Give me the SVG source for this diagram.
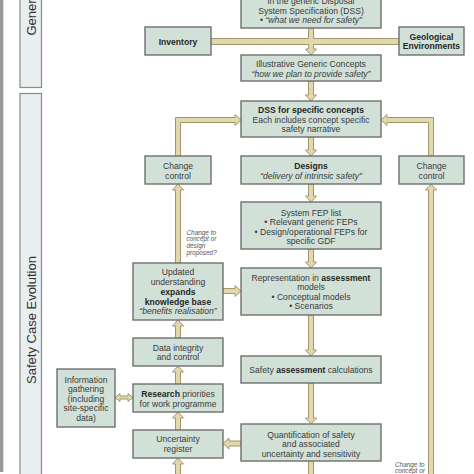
<svg xmlns="http://www.w3.org/2000/svg" width="474" height="474" viewBox="0 0 474 474">
<style>
.bg{fill:#ffffff}
.node{fill:#d2e1d8;stroke:#707070;stroke-width:1.4}
.side{fill:#e9eef0;stroke:#8a8a8a;stroke-width:1.2}
.pipe{fill:#e2d8ae;stroke:#a3966c;stroke-width:1;stroke-linejoin:miter}
.t{font-family:"Liberation Sans",Arial,sans-serif;font-size:8.6px;fill:#3a3a3a;text-anchor:middle}
.b{font-weight:bold;fill:#262626}
.i{font-style:italic}
.s{font-family:"Liberation Sans",Arial,sans-serif;font-size:13px;fill:#333333}
.n{font-family:"Liberation Sans",Arial,sans-serif;font-size:6.4px;font-style:italic;fill:#555555}
</style>
<rect class="bg" x="0" y="0" width="474" height="474"/>
<rect x="0" y="0" width="3.3" height="472" fill="#9a9a9a"/>
<g id="phase-generic">
<rect class="side" x="20" y="-5" width="21.5" height="92.5"/>
<text class="s" x="36" y="35.5" transform="rotate(-90 36 35.5)">Generic</text>
</g>
<g id="phase-safety-case-evolution">
<rect class="side" x="20" y="93.5" width="21.5" height="390"/>
<text class="s" x="36" y="320" text-anchor="middle" transform="rotate(-90 36 320)">Safety Case Evolution</text>
</g>
<g id="connectors">
<path class="pipe" d="M211 38.5 H308.5 V28 H313.5 V38.5 H399 V44.5 H313.5 V49 H316.5 L311 55 L305.5 49 H308.5 V44.5 H211Z"/>
<path class="pipe" d="M308.5 81 H313.5 V95 H316.5 L311 101 L305.5 95 H308.5Z"/>
<path class="pipe" d="M308.5 137 H313.5 V150 H316.5 L311 156 L305.5 150 H308.5Z"/>
<path class="pipe" d="M308.5 184 H313.5 V196 H316.5 L311 202 L305.5 196 H308.5Z"/>
<path class="pipe" d="M308.5 249 H313.5 V262 H316.5 L311 268 L305.5 262 H308.5Z"/>
<path class="pipe" d="M308.5 315 H313.5 V350 H316.5 L311 356 L305.5 350 H308.5Z"/>
<path class="pipe" d="M308.5 383 H313.5 V418 H316.5 L311 424 L305.5 418 H308.5Z"/>
<path class="pipe" d="M308.5 461 H313.5 V480 H308.5Z"/>
<path class="pipe" d="M175.5 263 H180.5 V190 H183.5 L178 184 L172.5 190 H175.5Z"/>
<path class="pipe" d="M175.5 156 V117.5 H235 V114.5 L241 120 L235 125.5 V122.5 H180.5 V156Z"/>
<path class="pipe" d="M175.5 338 H180.5 V326 H183.5 L178 320 L172.5 326 H175.5Z"/>
<path class="pipe" d="M175.5 384 H180.5 V372 H183.5 L178 366 L172.5 372 H175.5Z"/>
<path class="pipe" d="M175.5 430 H180.5 V418 H183.5 L178 412 L172.5 418 H175.5Z"/>
<path class="pipe" d="M175.5 480 H180.5 V464 H183.5 L178 458 L172.5 464 H175.5Z"/>
<path class="pipe" d="M433.5 156 V117.5 H387 V114.5 L381 120 L387 125.5 V122.5 H428.5 V156Z"/>
<path class="pipe" d="M428.5 480 H433.5 V190 H436.5 L431 184 L425.5 190 H428.5Z"/>
<path class="pipe" d="M223 288.5 H235 V285.5 L241 291 L235 296.5 V293.5 H223Z"/>
<path class="pipe" d="M241 441 H229 V438 L223 443.5 L229 449 V446 H241Z"/>
<path class="pipe" d="M115 397.5 L120 393.5 V396 H128 V393.5 L133 397.5 L128 401.5 V399 H120 V401.5Z"/>
<text class="n" x="186.5" y="234.5">Change to</text>
<text class="n" x="186.5" y="241.3">concept or</text>
<text class="n" x="186.5" y="247.8">design</text>
<text class="n" x="186.5" y="254.5">proposed?</text>
<text class="n" x="395" y="466.5">Change to</text>
<text class="n" x="395" y="473.3">concept or</text>
</g>
<g id="dss-generic">
<rect class="node" x="241" y="-10" width="140" height="38"/>
<text class="t" x="311" y="3.5">in the generic Disposal</text>
<text class="t" x="311" y="13.5">System Specification (DSS)</text>
<text class="t" x="311" y="23">• <tspan class="i">“what we need for safety”</tspan></text>
</g>
<g id="inventory">
<rect class="node" x="145" y="27" width="66" height="28"/>
<text class="t b" x="178" y="45">Inventory</text>
</g>
<g id="geological-environments">
<rect class="node" x="399" y="27" width="65" height="28"/>
<text class="t b" x="431.5" y="40">Geological</text>
<text class="t b" x="431.5" y="49">Environments</text>
</g>
<g id="illustrative-generic-concepts">
<rect class="node" x="241" y="55" width="140" height="26"/>
<text class="t" x="311" y="66.5">Illustrative Generic Concepts</text>
<text class="t i" x="311" y="76.5">“how we plan to provide safety”</text>
</g>
<g id="dss-specific">
<rect class="node" x="241" y="101" width="140" height="36"/>
<text class="t b" x="311" y="113">DSS for specific concepts</text>
<text class="t" x="311" y="123">Each includes concept specific</text>
<text class="t" x="311" y="132">safety narrative</text>
</g>
<g id="change-control-left">
<rect class="node" x="145" y="156" width="66" height="28"/>
<text class="t" x="178" y="168.5">Change</text>
<text class="t" x="178" y="178.5">control</text>
</g>
<g id="designs">
<rect class="node" x="241" y="156" width="140" height="28"/>
<text class="t b" x="311" y="169">Designs</text>
<text class="t i" x="311" y="178.5">“delivery of intrinsic safety”</text>
</g>
<g id="change-control-right">
<rect class="node" x="399" y="156" width="65" height="28"/>
<text class="t" x="431.5" y="168.5">Change</text>
<text class="t" x="431.5" y="178.5">control</text>
</g>
<g id="system-fep-list">
<rect class="node" x="241" y="202" width="140" height="47"/>
<text class="t" x="311" y="215.5">System FEP list</text>
<text class="t" x="311" y="225">• Relevant generic FEPs</text>
<text class="t" x="311" y="234.5">• Design/operational FEPs for</text>
<text class="t" x="311" y="244">specific GDF</text>
</g>
<g id="updated-understanding">
<rect class="node" x="133" y="263" width="90" height="57"/>
<text class="t" x="178" y="275">Updated</text>
<text class="t" x="178" y="285">understanding</text>
<text class="t b" x="178" y="295">expands</text>
<text class="t b" x="178" y="304.5">knowledge base</text>
<text class="t i" x="178" y="314">“benefits realisation”</text>
</g>
<g id="representation">
<rect class="node" x="241" y="268" width="140" height="47"/>
<text class="t" x="311" y="280.5">Representation in <tspan class="b">assessment</tspan></text>
<text class="t" x="311" y="290">models</text>
<text class="t" x="311" y="299.5">• Conceptual models</text>
<text class="t" x="311" y="309">• Scenarios</text>
</g>
<g id="data-integrity">
<rect class="node" x="133" y="338" width="90" height="28"/>
<text class="t" x="178" y="350.5">Data integrity</text>
<text class="t" x="178" y="360">and control</text>
</g>
<g id="safety-assessment-calculations">
<rect class="node" x="241" y="356" width="140" height="27"/>
<text class="t" x="311" y="373">Safety <tspan class="b">assessment</tspan> calculations</text>
</g>
<g id="information-gathering">
<rect class="node" x="57" y="369" width="58" height="58"/>
<text class="t" x="86" y="383">Information</text>
<text class="t" x="86" y="392">gathering</text>
<text class="t" x="86" y="401.5">(including</text>
<text class="t" x="86" y="411">site-specific</text>
<text class="t" x="86" y="421">data)</text>
</g>
<g id="research-priorities">
<rect class="node" x="133" y="384" width="90" height="28"/>
<text class="t" x="178" y="396.5"><tspan class="b">Research</tspan> priorities</text>
<text class="t" x="178" y="406.5">for work programme</text>
</g>
<g id="quantification">
<rect class="node" x="241" y="424" width="140" height="37"/>
<text class="t" x="311" y="437.5">Quantification of safety</text>
<text class="t" x="311" y="447">and associated</text>
<text class="t" x="311" y="457">uncertainty and sensitivity</text>
</g>
<g id="uncertainty-register">
<rect class="node" x="133" y="430" width="90" height="28"/>
<text class="t" x="178" y="441.5">Uncertainty</text>
<text class="t" x="178" y="451.5">register</text>
</g>
</svg>
